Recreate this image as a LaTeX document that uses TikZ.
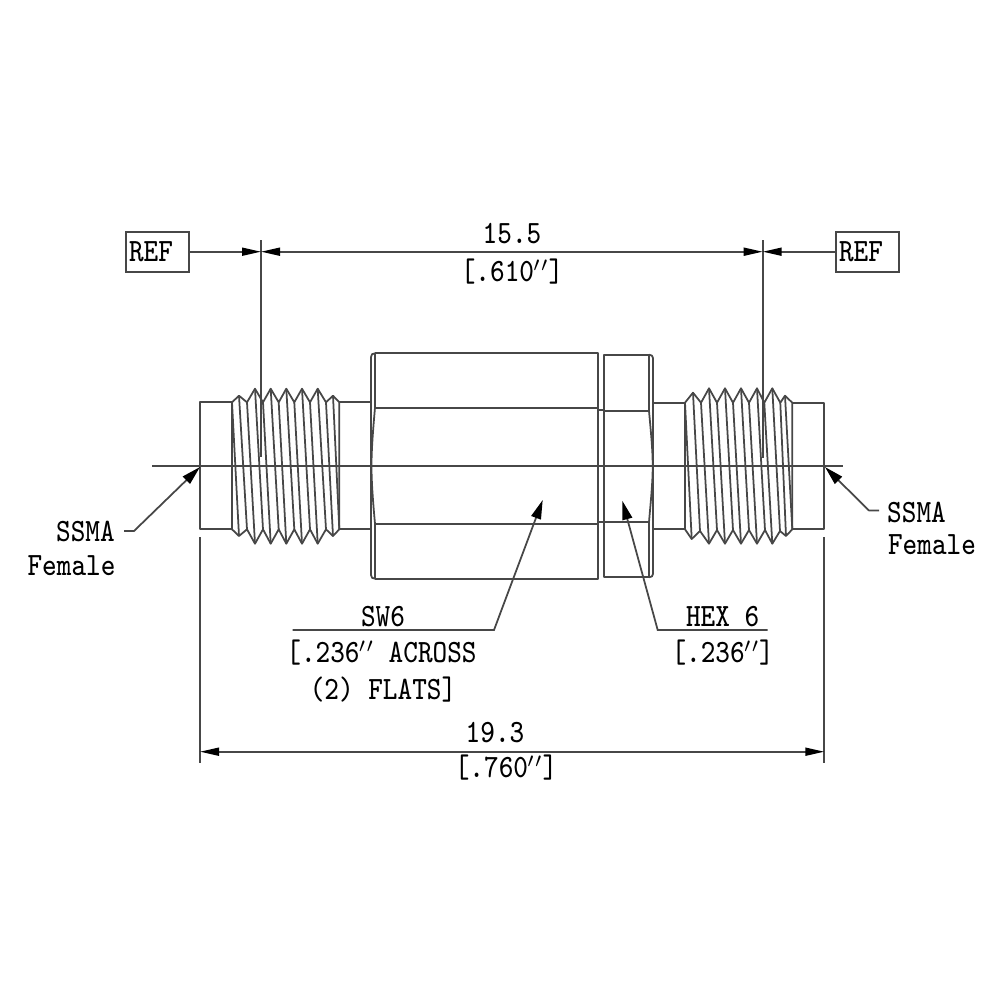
\documentclass[tikz,border=0pt]{standalone}
\usepackage{fontspec}
\usepackage{tikz}
\usetikzlibrary{arrows.meta}
\tikzstyle{part}=[draw=black!72,line width=0.5pt,line join=round]
\tikzstyle{plain}=[draw=black!72,line width=0.5pt]
\tikzstyle{dim}=[plain,-{Triangle[length=1.9mm,width=0.8mm,black]}]
\tikzstyle{dimboth}=[plain,{Triangle[length=1.9mm,width=0.8mm,black]}-{Triangle[length=1.9mm,width=0.8mm,black]}]
\tikzstyle{leader}=[plain,-{Triangle[length=1.9mm,width=1mm,black]}]
\tikzstyle{refbox}=[plain,minimum width=6.3mm,minimum height=4mm,inner sep=0pt]
\tikzstyle{label}=[inner sep=0pt,font=\ttfamily\fontsize{7.85pt}{9pt}\selectfont,yscale=1.18,transform shape]
\newcommand{\dprime}{\makebox[0.525em][c]{\raisebox{-0.1ex}{$''$}}}

\begin{document}
\begin{tikzpicture}[x=0.1mm,y=-0.1mm]
    \useasboundingbox (0,0) rectangle (1000,1000);
    % Centre line
    \coordinate (cl) at (152,466.3);
    \coordinate (cr) at (843,466.3);
    \path[plain] (cl) -- (cr);

    % Left plug and neck
    \path[part] (232,402.3) -- (200,402.3) -- (200,529.3) -- (232,529.3);
    \path[part] (339.3,402.3) -- (371,402.3);
    \path[part] (339.3,529.3) -- (371,529.3);
    % Left thread outline
    \path[part] (232,402.3) -- (239,395.7) -- (247,402.3) -- (255,388.7) -- (263,402.3) -- (270.7,388.7) -- (278.7,402.3)
        -- (286.3,388.7) -- (294.3,402.3) -- (302,388.7) -- (310,402.3) -- (317.7,388.7) -- (326,402.3) -- (333,395.7)
        -- (339.3,402.3) -- (339.3,529.3) -- (333,536) -- (326,529.3) -- (317.7,543.7) -- (310,529.3) -- (302,543.7)
        -- (294.3,529.3) -- (286.3,543.7) -- (278.7,529.3) -- (270.7,543.7) -- (263,529.3) -- (255,543.7) -- (247,529.3)
        -- (239,536) -- (232,529.3) -- cycle;
    % Left thread slants
    \foreach \xa/\ya/\xb/\yb in {232/402.3/239/536, 239/395.7/247/529.3, 247/402.3/255/543.7, 255/388.7/263/529.3,
                                 263/402.3/270.7/543.7, 270.7/388.7/278.7/529.3, 278.7/402.3/286.3/543.7,
                                 286.3/388.7/294.3/529.3, 294.3/402.3/302/543.7, 302/388.7/310/529.3,
                                 310/402.3/317.7/543.7, 317.7/388.7/326/529.3, 326/402.3/333/536, 333/395.7/339.3/529.3}
        \path[part] (\xa,\ya) -- (\xb,\yb);

    % Body with flats
    \path[part] (375,353.3) -- (598.3,353.3) -- (598.3,578.7) -- (375,578.7);
    \path[part] (375,353.3) .. controls (372.5,353.3) and (371,354.5) .. (371,357) -- (371,575)
        .. controls (371,577.5) and (372.5,578.7) .. (375,578.7);
    \path[part] (375,353.3) -- (375,407.7) .. controls (373,430) and (371.5,450) .. (371.5,466)
        .. controls (371.5,482) and (373,502) .. (375,523.7) -- (375,578.7);
    \path[part] (375,407.7) -- (598.3,407.7);
    \path[part] (375,523.7) -- (598.3,523.7);
    \path[part] (598.3,409.7) -- (604,409.7);
    \path[part] (598.3,522) -- (604,522);

    % Hex nut
    \path[part] (649,354.7) -- (604,354.7) -- (604,577.3) -- (649,577.3);
    \path[part] (649,354.7) .. controls (651.5,354.7) and (653,356) .. (653,358) -- (653,574)
        .. controls (653,576) and (651.5,577.3) .. (649,577.3);
    \path[part] (649,354.7) -- (649,411) .. controls (651,433) and (652.7,450) .. (652.7,466)
        .. controls (652.7,482) and (651,499) .. (649,522) -- (649,577.3);
    \path[part] (604,410.7) -- (649,410.7);
    \path[part] (604,521.7) -- (649,521.7);

    % Right plug and neck
    \path[part] (792.3,402.7) -- (824.3,402.7) -- (824.3,529.3) -- (792.3,529.3);
    \path[part] (653,402.7) -- (685,402.7);
    \path[part] (653,529.3) -- (685,529.3);
    % Right thread outline
    \path[part] (685,402.7) -- (693,392.7) -- (701,402.7) -- (709,388.3) -- (717,402.7) -- (725,388.3) -- (733,402.7)
        -- (741,388.3) -- (749,402.7) -- (757,388.3) -- (764.3,402.7) -- (772.3,388.3) -- (780.3,402.7) -- (785,395.7)
        -- (792.3,402.7) -- (792.3,529.3) -- (786,536) -- (780,531) -- (772.3,543.7) -- (765,530) -- (757,543.7)
        -- (749,530) -- (741,543.7) -- (733,530) -- (725,543.7) -- (717,530) -- (709,543.7) -- (700,531)
        -- (691.7,539) -- (685,529.3) -- cycle;
    % Right thread slants
    \foreach \xa/\ya/\xb/\yb in {685/402.7/691.7/539, 693/392.7/700/531, 701/402.7/709/543.7, 709/388.3/717/530,
                                 717/402.7/725/543.7, 725/388.3/733/530, 733/402.7/741/543.7, 741/388.3/749/530,
                                 749/402.7/757/543.7, 757/388.3/765/530, 764.3/402.7/772.3/543.7, 772.3/388.3/780/531,
                                 780.3/402.7/786/536, 785/395.7/792.3/529.3}
        \path[part] (\xa,\ya) -- (\xb,\yb);

    % Extension lines
    \foreach \name/\xa/\ya/\yb in {extA/261/240/457, extB/762.7/240/458, extC/200/537/763, extD/824.3/537/763} {
        \coordinate (\name a) at (\xa,\ya);
        \coordinate (\name b) at (\xa,\yb);
        \path[plain] (\name a) -- (\name b);
    }

    % Dimensions
    \node[refbox] (refL) at (157.3,251.7) {};
    \node[refbox] (refR) at (867.5,251.7) {};
    \node[label] (refLtext) at (151,252) {REF};
    \node[label] (refRtext) at (861,252) {REF};
    \coordinate (tipL) at (261,251.7);
    \coordinate (tipR) at (762.7,251.7);
    \coordinate (tipC) at (200,751.7);
    \coordinate (tipD) at (824.3,751.7);
    \path[dim] (refL) -- (tipL);
    \path[dim] (refR) -- (tipR);
    \path[dimboth] (tipL) -- (tipR);
    \path[dimboth] (tipC) -- (tipD);

    \node[label] (lenA) at (512,234) {15.5};
    \node[label] (lenB) at (512,272) {[.610\dprime]};
    \node[label] (totA) at (495,733) {19.3};
    \node[label] (totB) at (506,768) {[.760\dprime]};

    % Leaders
    \node[label] (sw) at (383,617) {SW6};
    \node[label] (swA) at (381.5,653) {[.236\dprime{} ACROSS};
    \node[label] (swB) at (383,690) {(2) FLATS]};
    \node[label] (hex) at (722.7,617) {HEX 6};
    \node[label] (hexA) at (722.7,653) {[.236\dprime]};
    \node[label] (ssmaL) at (85.5,531) {SSMA};
    \node[label] (femL) at (71.5,566) {Female};
    \node[label] (ssmaR) at (916.5,512) {SSMA};
    \node[label] (femR) at (932,545) {Female};
    \coordinate (swEnd) at (292.7,630);
    \coordinate (swKnee) at (494,630);
    \coordinate (swTip) at (542.7,500);
    \coordinate (hexEnd) at (767.7,630);
    \coordinate (hexKnee) at (657.7,630);
    \coordinate (hexTip) at (622.3,500.7);
    \path[leader] (swEnd) -- (swKnee) -- (swTip);
    \path[leader] (hexEnd) -- (hexKnee) -- (hexTip);
    \coordinate (ssmaLEnd) at (124,531);
    \coordinate (ssmaLKnee) at (134,531);
    \coordinate (ssmaLTip) at (200,467);
    \coordinate (ssmaREnd) at (879,510.5);
    \coordinate (ssmaRKnee) at (869,510.5);
    \coordinate (ssmaRTip) at (825,467);
    \path[leader] (ssmaLEnd) -- (ssmaLKnee) -- (ssmaLTip);
    \path[leader] (ssmaREnd) -- (ssmaRKnee) -- (ssmaRTip);
\end{tikzpicture}
\end{document}
